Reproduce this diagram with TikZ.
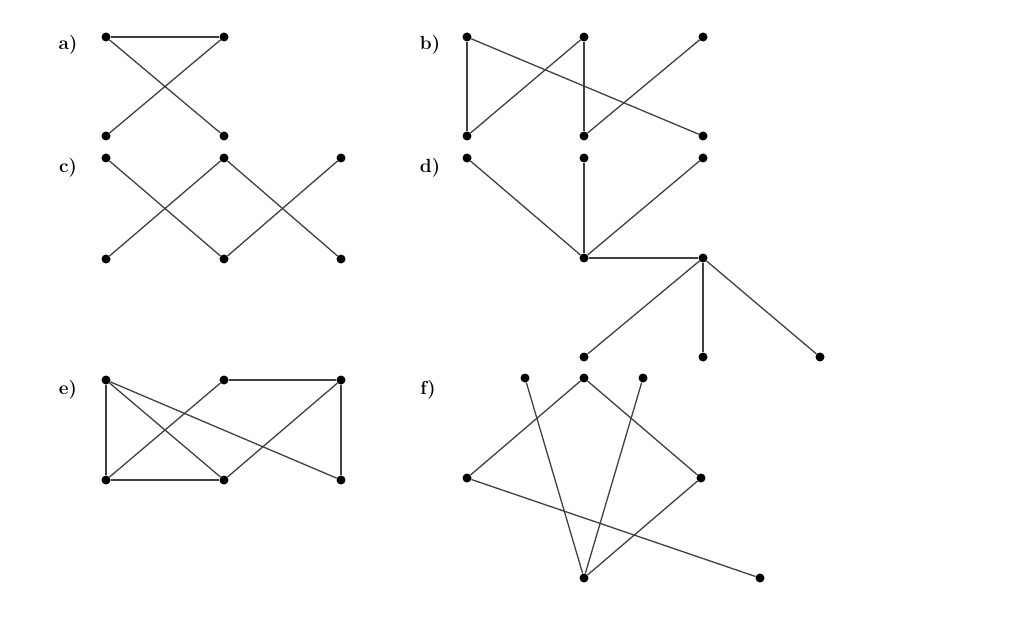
\documentclass[tikz,border=0pt]{standalone}
\begin{document}
\begin{tikzpicture}[x=1pt,y=-1pt,
  v/.style={circle,fill=black,inner sep=0pt,minimum size=9pt},
  lab/.style={font=\bfseries\fontsize{19}{19}\selectfont},
  e/.style={line width=1.3pt,draw=black!75}]
\useasboundingbox (0,0) rectangle (1024,628);
\foreach \n/\x/\y in {a1/106/37,a2/224/37,a3/106/136,a4/224/136,
 b1/467/37,b2/584/37,b3/703/37,b4/467/136,b5/584/136,b6/703/136,
 c1/106/158,c2/224/158,c3/341/158,c4/106/259,c5/224/259,c6/341/259,
 d1/467/158,d2/584/158,d3/703/158,d4/584/258,d5/703/258,d6/584/357,d7/703/357,d8/820/357,
 e1/106/380,e2/224/380,e3/341/380,e4/106/480,e5/224/480,e6/341/480,
 f1/525/378,f2/584/378,f3/643/378,f4/467/478,f5/701/478,f6/584/578,f7/760/578}
 \node[v] (\n) at (\x,\y) {};
\node[lab] (la) at (68,45) {a)};
\node[lab] (lb) at (430,45) {b)};
\node[lab] (lc) at (68,168) {c)};
\node[lab] (ld) at (430,168) {d)};
\node[lab] (le) at (68,390) {e)};
\node[lab] (lf) at (428,390) {f)};
\foreach \p/\q in {a1/a2,a1/a4,a2/a3,
 b1/b4,b1/b6,b2/b4,b2/b5,b3/b5,
 c1/c5,c2/c4,c2/c6,c3/c5,
 d1/d4,d2/d4,d3/d4,d4/d5,d5/d6,d5/d7,d5/d8,
 e1/e4,e1/e5,e1/e6,e2/e3,e2/e4,e3/e5,e3/e6,e4/e5,
 f1/f6,f3/f6,f2/f4,f2/f5,f4/f7,f5/f6}
 \draw[e] (\p) -- (\q);
\end{tikzpicture}
\end{document}
